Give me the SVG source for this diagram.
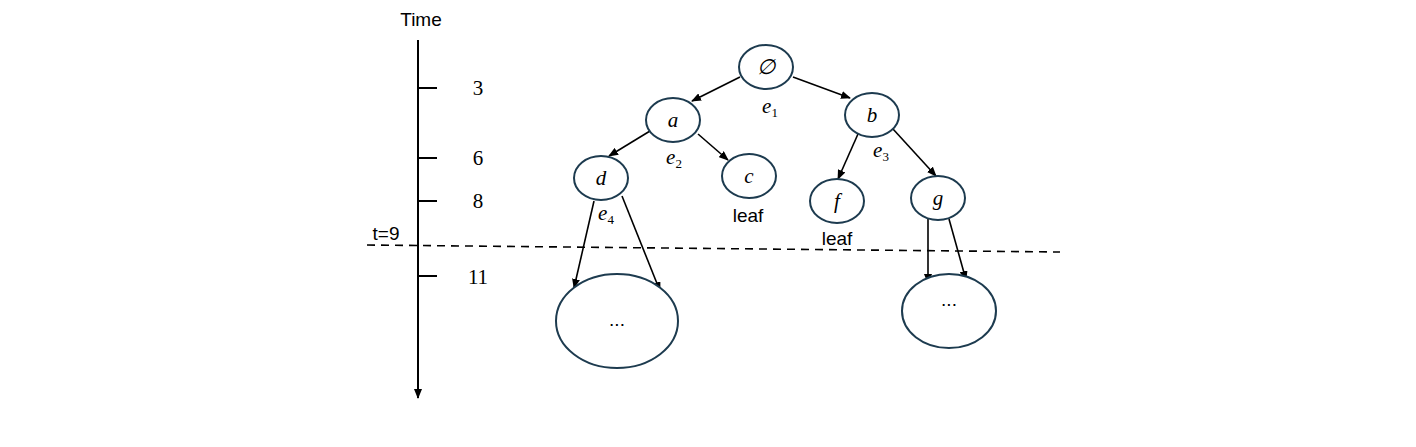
<svg xmlns="http://www.w3.org/2000/svg" width="1416" height="447" viewBox="0 0 1416 447">
<style>
.n{fill:#fff;stroke:#1d3b4f;stroke-width:2}
.l{font-family:"Liberation Serif",serif;font-style:italic;font-size:21px;text-anchor:middle;fill:#000}
.s{font-family:"Liberation Sans",sans-serif;font-size:19px;text-anchor:middle;fill:#000}
.num{font-family:"Liberation Serif",serif;font-size:21px;text-anchor:middle;fill:#000}
.e{stroke:#000;stroke-width:1.6;fill:none;marker-end:url(#ah)}
</style>
<defs>
<marker id="ah" markerWidth="10" markerHeight="8" refX="9" refY="4" orient="auto" markerUnits="userSpaceOnUse"><path d="M0,0L10,4L0,8z" fill="#000"/></marker>
</defs>
<g id="axis">
<line x1="418" y1="40" x2="418" y2="398" stroke="#000" stroke-width="2" marker-end="url(#ah)"/>
<g stroke="#000" stroke-width="2"><line x1="418" y1="88" x2="437" y2="88"/><line x1="418" y1="158" x2="437" y2="158"/><line x1="418" y1="201" x2="437" y2="201"/><line x1="418" y1="276" x2="437" y2="276"/></g>
<text x="421" y="26" class="s">Time</text>
<text x="478" y="95" class="num">3</text>
<text x="478" y="165" class="num">6</text>
<text x="478" y="208" class="num">8</text>
<text x="478" y="284" class="num">11</text>
<text x="386" y="240" class="s">t=9</text>
<line x1="367" y1="245" x2="1060" y2="252" stroke="#000" stroke-width="1.6" stroke-dasharray="8,6"/>
</g>
<g id="connectors">
<path class="e" d="M740,77L692,101"/>
<path class="e" d="M793,77L850,98"/>
<path class="e" d="M650,131L609,156"/>
<path class="e" d="M698,134L728,160"/>
<path class="e" d="M858,134L838,179"/>
<path class="e" d="M893,129L936,176"/>
<path class="e" d="M594,201L574,288"/>
<path class="e" d="M622,196L660,291"/>
<path class="e" d="M928,219L928,283"/>
<path class="e" d="M949,219L966,280"/>
</g>
<g id="root"><ellipse class="n" cx="766" cy="67" rx="27" ry="22"/><text x="766" y="74" class="l" font-style="normal">∅</text></g>
<g id="a"><ellipse class="n" cx="673" cy="120" rx="27" ry="22"/><text x="673" y="127" class="l">a</text></g>
<g id="b"><ellipse class="n" cx="872" cy="115" rx="27" ry="22"/><text x="872" y="122" class="l">b</text></g>
<g id="d"><ellipse class="n" cx="601" cy="178" rx="27" ry="22"/><text x="601" y="185" class="l">d</text></g>
<g id="c"><ellipse class="n" cx="749" cy="176" rx="27" ry="22"/><text x="749" y="183" class="l">c</text></g>
<g id="f"><ellipse class="n" cx="837" cy="201" rx="27" ry="22"/><text x="837" y="208" class="l">f</text></g>
<g id="g"><ellipse class="n" cx="938" cy="198" rx="27" ry="22"/><text x="938" y="205" class="l">g</text></g>
<g id="sub1"><ellipse class="n" cx="617" cy="321" rx="61" ry="47"/><text x="617" y="326" class="s">...</text></g>
<g id="sub2"><ellipse class="n" cx="949" cy="311" rx="47" ry="37"/><text x="949" y="306" class="s">...</text></g>
<g id="labels">
<text x="770" y="113" class="l">e<tspan font-size="13" font-style="normal" dy="4">1</tspan></text>
<text x="674" y="164" class="l">e<tspan font-size="13" font-style="normal" dy="4">2</tspan></text>
<text x="881" y="157" class="l">e<tspan font-size="13" font-style="normal" dy="4">3</tspan></text>
<text x="606" y="220" class="l">e<tspan font-size="13" font-style="normal" dy="4">4</tspan></text>
<text x="748" y="222" class="s">leaf</text>
<text x="837" y="245" class="s">leaf</text>
</g>
</svg>
